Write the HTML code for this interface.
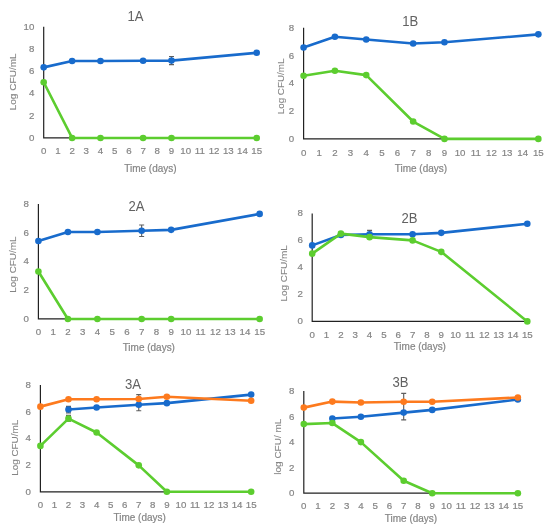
<!DOCTYPE html>
<html><head><meta charset="utf-8"><style>
html,body{margin:0;padding:0;background:#fff;}
svg{display:block;}
.t{font-family:'Liberation Sans', Arial, sans-serif;font-size:9.7px;fill:#858585;stroke:#858585;stroke-width:0.2px;}
.ti{font-family:'Liberation Sans', Arial, sans-serif;font-size:14px;fill:#626262;}
.at{font-family:'Liberation Sans', Arial, sans-serif;font-size:10.3px;fill:#858585;stroke:#858585;stroke-width:0.2px;}
.yl{font-family:'Liberation Sans', Arial, sans-serif;font-size:9.7px;fill:#858585;stroke:#858585;stroke-width:0.1px;}
.ax{fill:none;stroke:#222222;stroke-width:1.2;}
.er{fill:none;stroke:#5f5f5f;stroke-width:1.15;}
</style></head><body>
<svg width="550" height="532" viewBox="0 0 550 532">
<rect width="550" height="532" fill="#fff"/>
<text class="t" x="34.3" y="140.95" text-anchor="end">0</text>
<text class="t" x="34.3" y="118.72" text-anchor="end">2</text>
<text class="t" x="34.3" y="96.49" text-anchor="end">4</text>
<text class="t" x="34.3" y="74.26" text-anchor="end">6</text>
<text class="t" x="34.3" y="52.03" text-anchor="end">8</text>
<text class="t" x="34.3" y="29.8" text-anchor="end">10</text>
<text class="t" x="43.7" y="154.35" text-anchor="middle">0</text>
<text class="t" x="57.9" y="154.35" text-anchor="middle">1</text>
<text class="t" x="72.1" y="154.35" text-anchor="middle">2</text>
<text class="t" x="86.3" y="154.35" text-anchor="middle">3</text>
<text class="t" x="100.5" y="154.35" text-anchor="middle">4</text>
<text class="t" x="114.7" y="154.35" text-anchor="middle">5</text>
<text class="t" x="128.9" y="154.35" text-anchor="middle">6</text>
<text class="t" x="143.1" y="154.35" text-anchor="middle">7</text>
<text class="t" x="157.3" y="154.35" text-anchor="middle">8</text>
<text class="t" x="171.5" y="154.35" text-anchor="middle">9</text>
<text class="t" x="185.7" y="154.35" text-anchor="middle">10</text>
<text class="t" x="199.9" y="154.35" text-anchor="middle">11</text>
<text class="t" x="214.1" y="154.35" text-anchor="middle">12</text>
<text class="t" x="228.3" y="154.35" text-anchor="middle">13</text>
<text class="t" x="242.5" y="154.35" text-anchor="middle">14</text>
<text class="t" x="256.7" y="154.35" text-anchor="middle">15</text>
<path class="ax" d="M43.7 26.8V137.95H256.7"/>
<text class="ti" x="135.4" y="20.9" text-anchor="middle" textLength="16" lengthAdjust="spacingAndGlyphs">1A</text>
<text class="at" x="150.4" y="172.2" text-anchor="middle" textLength="52.3" lengthAdjust="spacingAndGlyphs">Time (days)</text>
<text class="yl" transform="translate(16.1 81.83) rotate(-90)" text-anchor="middle" textLength="57.05" lengthAdjust="spacingAndGlyphs">Log CFU/mL</text>
<path class="er" d="M171.5 56.5V64.6M169 56.5H174M169 64.6H174"/>
<path d="M43.7 67.37 L72.1 61.03 L100.5 61.03 L143.1 60.81 L171.5 60.59 L256.7 52.81" fill="none" stroke="#186bcc" stroke-width="2.6" stroke-linejoin="round"/>
<circle cx="43.7" cy="67.37" r="3.3" fill="#186bcc"/>
<circle cx="72.1" cy="61.03" r="3.3" fill="#186bcc"/>
<circle cx="100.5" cy="61.03" r="3.3" fill="#186bcc"/>
<circle cx="143.1" cy="60.81" r="3.3" fill="#186bcc"/>
<circle cx="171.5" cy="60.59" r="3.3" fill="#186bcc"/>
<circle cx="256.7" cy="52.81" r="3.3" fill="#186bcc"/>
<path d="M43.7 82.26 L72.1 137.95 L100.5 137.95 L143.1 137.95 L171.5 137.95 L256.7 137.95" fill="none" stroke="#5ccd2f" stroke-width="2.6" stroke-linejoin="round"/>
<circle cx="43.7" cy="82.26" r="3.3" fill="#5ccd2f"/>
<circle cx="72.1" cy="137.95" r="3.3" fill="#5ccd2f"/>
<circle cx="100.5" cy="137.95" r="3.3" fill="#5ccd2f"/>
<circle cx="143.1" cy="137.95" r="3.3" fill="#5ccd2f"/>
<circle cx="171.5" cy="137.95" r="3.3" fill="#5ccd2f"/>
<circle cx="256.7" cy="137.95" r="3.3" fill="#5ccd2f"/>
<text class="t" x="294.2" y="141.9" text-anchor="end">0</text>
<text class="t" x="294.2" y="114.1" text-anchor="end">2</text>
<text class="t" x="294.2" y="86.3" text-anchor="end">4</text>
<text class="t" x="294.2" y="58.5" text-anchor="end">6</text>
<text class="t" x="294.2" y="30.7" text-anchor="end">8</text>
<text class="t" x="303.6" y="156.1" text-anchor="middle">0</text>
<text class="t" x="319.25" y="156.1" text-anchor="middle">1</text>
<text class="t" x="334.9" y="156.1" text-anchor="middle">2</text>
<text class="t" x="350.55" y="156.1" text-anchor="middle">3</text>
<text class="t" x="366.2" y="156.1" text-anchor="middle">4</text>
<text class="t" x="381.85" y="156.1" text-anchor="middle">5</text>
<text class="t" x="397.5" y="156.1" text-anchor="middle">6</text>
<text class="t" x="413.15" y="156.1" text-anchor="middle">7</text>
<text class="t" x="428.8" y="156.1" text-anchor="middle">8</text>
<text class="t" x="444.45" y="156.1" text-anchor="middle">9</text>
<text class="t" x="460.1" y="156.1" text-anchor="middle">10</text>
<text class="t" x="475.75" y="156.1" text-anchor="middle">11</text>
<text class="t" x="491.4" y="156.1" text-anchor="middle">12</text>
<text class="t" x="507.05" y="156.1" text-anchor="middle">13</text>
<text class="t" x="522.7" y="156.1" text-anchor="middle">14</text>
<text class="t" x="538.35" y="156.1" text-anchor="middle">15</text>
<path class="ax" d="M303.6 27.7V138.9H538.35"/>
<text class="ti" x="410.2" y="25.7" text-anchor="middle" textLength="16" lengthAdjust="spacingAndGlyphs">1B</text>
<text class="at" x="420.9" y="172" text-anchor="middle" textLength="52.3" lengthAdjust="spacingAndGlyphs">Time (days)</text>
<text class="yl" transform="translate(284.2 86.43) rotate(-90)" text-anchor="middle" textLength="55.65" lengthAdjust="spacingAndGlyphs">Log CFU/mL</text>
<path d="M303.6 47.44 L334.9 36.74 L366.2 39.52 L413.15 43.55 L444.45 42.3 L538.35 34.37" fill="none" stroke="#186bcc" stroke-width="2.6" stroke-linejoin="round"/>
<circle cx="303.6" cy="47.44" r="3.3" fill="#186bcc"/>
<circle cx="334.9" cy="36.74" r="3.3" fill="#186bcc"/>
<circle cx="366.2" cy="39.52" r="3.3" fill="#186bcc"/>
<circle cx="413.15" cy="43.55" r="3.3" fill="#186bcc"/>
<circle cx="444.45" cy="42.3" r="3.3" fill="#186bcc"/>
<circle cx="538.35" cy="34.37" r="3.3" fill="#186bcc"/>
<path d="M303.6 75.79 L334.9 70.79 L366.2 75.1 L413.15 121.53 L444.45 138.9 L538.35 138.9" fill="none" stroke="#5ccd2f" stroke-width="2.6" stroke-linejoin="round"/>
<circle cx="303.6" cy="75.79" r="3.3" fill="#5ccd2f"/>
<circle cx="334.9" cy="70.79" r="3.3" fill="#5ccd2f"/>
<circle cx="366.2" cy="75.1" r="3.3" fill="#5ccd2f"/>
<circle cx="413.15" cy="121.53" r="3.3" fill="#5ccd2f"/>
<circle cx="444.45" cy="138.9" r="3.3" fill="#5ccd2f"/>
<circle cx="538.35" cy="138.9" r="3.3" fill="#5ccd2f"/>
<text class="t" x="29" y="321.95" text-anchor="end">0</text>
<text class="t" x="29" y="293.21" text-anchor="end">2</text>
<text class="t" x="29" y="264.47" text-anchor="end">4</text>
<text class="t" x="29" y="235.73" text-anchor="end">6</text>
<text class="t" x="29" y="206.99" text-anchor="end">8</text>
<text class="t" x="38.4" y="335.35" text-anchor="middle">0</text>
<text class="t" x="53.15" y="335.35" text-anchor="middle">1</text>
<text class="t" x="67.9" y="335.35" text-anchor="middle">2</text>
<text class="t" x="82.65" y="335.35" text-anchor="middle">3</text>
<text class="t" x="97.4" y="335.35" text-anchor="middle">4</text>
<text class="t" x="112.15" y="335.35" text-anchor="middle">5</text>
<text class="t" x="126.9" y="335.35" text-anchor="middle">6</text>
<text class="t" x="141.65" y="335.35" text-anchor="middle">7</text>
<text class="t" x="156.4" y="335.35" text-anchor="middle">8</text>
<text class="t" x="171.15" y="335.35" text-anchor="middle">9</text>
<text class="t" x="185.9" y="335.35" text-anchor="middle">10</text>
<text class="t" x="200.65" y="335.35" text-anchor="middle">11</text>
<text class="t" x="215.4" y="335.35" text-anchor="middle">12</text>
<text class="t" x="230.15" y="335.35" text-anchor="middle">13</text>
<text class="t" x="244.9" y="335.35" text-anchor="middle">14</text>
<text class="t" x="259.65" y="335.35" text-anchor="middle">15</text>
<path class="ax" d="M38.4 203.99V318.95H259.65"/>
<text class="ti" x="136.6" y="210.7" text-anchor="middle" textLength="16" lengthAdjust="spacingAndGlyphs">2A</text>
<text class="at" x="148.8" y="350.6" text-anchor="middle" textLength="52.3" lengthAdjust="spacingAndGlyphs">Time (days)</text>
<text class="yl" transform="translate(16 264.58) rotate(-90)" text-anchor="middle" textLength="56.15" lengthAdjust="spacingAndGlyphs">Log CFU/mL</text>
<path class="er" d="M141.65 225V236.5M139.15 225H144.15M139.15 236.5H144.15"/>
<path d="M38.4 241.06 L67.9 232.01 L97.4 232.01 L141.65 230.72 L171.15 229.86 L259.65 213.91" fill="none" stroke="#186bcc" stroke-width="2.6" stroke-linejoin="round"/>
<circle cx="38.4" cy="241.06" r="3.3" fill="#186bcc"/>
<circle cx="67.9" cy="232.01" r="3.3" fill="#186bcc"/>
<circle cx="97.4" cy="232.01" r="3.3" fill="#186bcc"/>
<circle cx="141.65" cy="230.72" r="3.3" fill="#186bcc"/>
<circle cx="171.15" cy="229.86" r="3.3" fill="#186bcc"/>
<circle cx="259.65" cy="213.91" r="3.3" fill="#186bcc"/>
<path d="M38.4 271.53 L67.9 318.95 L97.4 318.95 L141.65 318.95 L171.15 318.95 L259.65 318.95" fill="none" stroke="#5ccd2f" stroke-width="2.6" stroke-linejoin="round"/>
<circle cx="38.4" cy="271.53" r="3.3" fill="#5ccd2f"/>
<circle cx="67.9" cy="318.95" r="3.3" fill="#5ccd2f"/>
<circle cx="97.4" cy="318.95" r="3.3" fill="#5ccd2f"/>
<circle cx="141.65" cy="318.95" r="3.3" fill="#5ccd2f"/>
<circle cx="171.15" cy="318.95" r="3.3" fill="#5ccd2f"/>
<circle cx="259.65" cy="318.95" r="3.3" fill="#5ccd2f"/>
<text class="t" x="302.8" y="324.4" text-anchor="end">0</text>
<text class="t" x="302.8" y="297.4" text-anchor="end">2</text>
<text class="t" x="302.8" y="270.4" text-anchor="end">4</text>
<text class="t" x="302.8" y="243.4" text-anchor="end">6</text>
<text class="t" x="302.8" y="216.4" text-anchor="end">8</text>
<text class="t" x="312.2" y="337.8" text-anchor="middle">0</text>
<text class="t" x="326.54" y="337.8" text-anchor="middle">1</text>
<text class="t" x="340.88" y="337.8" text-anchor="middle">2</text>
<text class="t" x="355.22" y="337.8" text-anchor="middle">3</text>
<text class="t" x="369.56" y="337.8" text-anchor="middle">4</text>
<text class="t" x="383.9" y="337.8" text-anchor="middle">5</text>
<text class="t" x="398.24" y="337.8" text-anchor="middle">6</text>
<text class="t" x="412.58" y="337.8" text-anchor="middle">7</text>
<text class="t" x="426.92" y="337.8" text-anchor="middle">8</text>
<text class="t" x="441.26" y="337.8" text-anchor="middle">9</text>
<text class="t" x="455.6" y="337.8" text-anchor="middle">10</text>
<text class="t" x="469.94" y="337.8" text-anchor="middle">11</text>
<text class="t" x="484.28" y="337.8" text-anchor="middle">12</text>
<text class="t" x="498.62" y="337.8" text-anchor="middle">13</text>
<text class="t" x="512.96" y="337.8" text-anchor="middle">14</text>
<text class="t" x="527.3" y="337.8" text-anchor="middle">15</text>
<path class="ax" d="M312.2 213.4V321.4H527.3"/>
<text class="ti" x="409.5" y="222.5" text-anchor="middle" textLength="16" lengthAdjust="spacingAndGlyphs">2B</text>
<text class="at" x="419.8" y="350.2" text-anchor="middle" textLength="52.3" lengthAdjust="spacingAndGlyphs">Time (days)</text>
<text class="yl" transform="translate(287.2 273.33) rotate(-90)" text-anchor="middle" textLength="56.45" lengthAdjust="spacingAndGlyphs">Log CFU/mL</text>
<path class="er" d="M369.56 230.4V238M367.06 230.4H372.06M367.06 238H372.06"/>
<path d="M312.2 245.39 L340.88 235 L369.56 234.19 L412.58 234.32 L441.26 232.84 L527.3 223.79" fill="none" stroke="#186bcc" stroke-width="2.6" stroke-linejoin="round"/>
<circle cx="312.2" cy="245.39" r="3.3" fill="#186bcc"/>
<circle cx="340.88" cy="235" r="3.3" fill="#186bcc"/>
<circle cx="369.56" cy="234.19" r="3.3" fill="#186bcc"/>
<circle cx="412.58" cy="234.32" r="3.3" fill="#186bcc"/>
<circle cx="441.26" cy="232.84" r="3.3" fill="#186bcc"/>
<circle cx="527.3" cy="223.79" r="3.3" fill="#186bcc"/>
<path d="M312.2 253.63 L340.88 233.65 L369.56 237.16 L412.58 240.4 L441.26 251.87 L527.3 321.4" fill="none" stroke="#5ccd2f" stroke-width="2.6" stroke-linejoin="round"/>
<circle cx="312.2" cy="253.63" r="3.3" fill="#5ccd2f"/>
<circle cx="340.88" cy="233.65" r="3.3" fill="#5ccd2f"/>
<circle cx="369.56" cy="237.16" r="3.3" fill="#5ccd2f"/>
<circle cx="412.58" cy="240.4" r="3.3" fill="#5ccd2f"/>
<circle cx="441.26" cy="251.87" r="3.3" fill="#5ccd2f"/>
<circle cx="527.3" cy="321.4" r="3.3" fill="#5ccd2f"/>
<text class="t" x="31" y="494.8" text-anchor="end">0</text>
<text class="t" x="31" y="468.1" text-anchor="end">2</text>
<text class="t" x="31" y="441.4" text-anchor="end">4</text>
<text class="t" x="31" y="414.7" text-anchor="end">6</text>
<text class="t" x="31" y="388" text-anchor="end">8</text>
<text class="t" x="40.4" y="508.2" text-anchor="middle">0</text>
<text class="t" x="54.45" y="508.2" text-anchor="middle">1</text>
<text class="t" x="68.5" y="508.2" text-anchor="middle">2</text>
<text class="t" x="82.55" y="508.2" text-anchor="middle">3</text>
<text class="t" x="96.6" y="508.2" text-anchor="middle">4</text>
<text class="t" x="110.65" y="508.2" text-anchor="middle">5</text>
<text class="t" x="124.7" y="508.2" text-anchor="middle">6</text>
<text class="t" x="138.75" y="508.2" text-anchor="middle">7</text>
<text class="t" x="152.8" y="508.2" text-anchor="middle">8</text>
<text class="t" x="166.85" y="508.2" text-anchor="middle">9</text>
<text class="t" x="180.9" y="508.2" text-anchor="middle">10</text>
<text class="t" x="194.95" y="508.2" text-anchor="middle">11</text>
<text class="t" x="209" y="508.2" text-anchor="middle">12</text>
<text class="t" x="223.05" y="508.2" text-anchor="middle">13</text>
<text class="t" x="237.1" y="508.2" text-anchor="middle">14</text>
<text class="t" x="251.15" y="508.2" text-anchor="middle">15</text>
<path class="ax" d="M40.4 385V491.8H251.15"/>
<text class="ti" x="132.9" y="388.9" text-anchor="middle" textLength="16" lengthAdjust="spacingAndGlyphs">3A</text>
<text class="at" x="139.7" y="520.7" text-anchor="middle" textLength="52.3" lengthAdjust="spacingAndGlyphs">Time (days)</text>
<text class="yl" transform="translate(17.6 447.83) rotate(-90)" text-anchor="middle" textLength="56.05" lengthAdjust="spacingAndGlyphs">Log CFU/mL</text>
<path class="er" d="M138.75 394.6V410.7M136.25 394.6H141.25M136.25 410.7H141.25"/>
<path class="er" d="M68.5 406.3V412.9M66 406.3H71M66 412.9H71"/>
<path class="er" d="M68.5 415.4V421.2M66 415.4H71M66 421.2H71"/>
<path d="M68.5 409.56 L96.6 407.43 L138.75 404.76 L166.85 403.16 L251.15 394.61" fill="none" stroke="#186bcc" stroke-width="2.6" stroke-linejoin="round"/>
<circle cx="68.5" cy="409.56" r="3.3" fill="#186bcc"/>
<circle cx="96.6" cy="407.43" r="3.3" fill="#186bcc"/>
<circle cx="138.75" cy="404.76" r="3.3" fill="#186bcc"/>
<circle cx="166.85" cy="403.16" r="3.3" fill="#186bcc"/>
<circle cx="251.15" cy="394.61" r="3.3" fill="#186bcc"/>
<path d="M40.4 445.88 L68.5 418.64 L96.6 432.53 L138.75 465.37 L166.85 491.8 L251.15 491.8" fill="none" stroke="#5ccd2f" stroke-width="2.6" stroke-linejoin="round"/>
<circle cx="40.4" cy="445.88" r="3.3" fill="#5ccd2f"/>
<circle cx="68.5" cy="418.64" r="3.3" fill="#5ccd2f"/>
<circle cx="96.6" cy="432.53" r="3.3" fill="#5ccd2f"/>
<circle cx="138.75" cy="465.37" r="3.3" fill="#5ccd2f"/>
<circle cx="166.85" cy="491.8" r="3.3" fill="#5ccd2f"/>
<circle cx="251.15" cy="491.8" r="3.3" fill="#5ccd2f"/>
<path d="M40.4 406.63 L68.5 399.28 L96.6 399.28 L138.75 399.02 L166.85 396.75 L251.15 400.75" fill="none" stroke="#fd7a1e" stroke-width="2.6" stroke-linejoin="round"/>
<circle cx="40.4" cy="406.63" r="3.3" fill="#fd7a1e"/>
<circle cx="68.5" cy="399.28" r="3.3" fill="#fd7a1e"/>
<circle cx="96.6" cy="399.28" r="3.3" fill="#fd7a1e"/>
<circle cx="138.75" cy="399.02" r="3.3" fill="#fd7a1e"/>
<circle cx="166.85" cy="396.75" r="3.3" fill="#fd7a1e"/>
<circle cx="251.15" cy="400.75" r="3.3" fill="#fd7a1e"/>
<text class="t" x="294.4" y="496.2" text-anchor="end">0</text>
<text class="t" x="294.4" y="470.65" text-anchor="end">2</text>
<text class="t" x="294.4" y="445.1" text-anchor="end">4</text>
<text class="t" x="294.4" y="419.55" text-anchor="end">6</text>
<text class="t" x="294.4" y="394" text-anchor="end">8</text>
<text class="t" x="303.8" y="509.3" text-anchor="middle">0</text>
<text class="t" x="318.07" y="509.3" text-anchor="middle">1</text>
<text class="t" x="332.34" y="509.3" text-anchor="middle">2</text>
<text class="t" x="346.61" y="509.3" text-anchor="middle">3</text>
<text class="t" x="360.88" y="509.3" text-anchor="middle">4</text>
<text class="t" x="375.15" y="509.3" text-anchor="middle">5</text>
<text class="t" x="389.42" y="509.3" text-anchor="middle">6</text>
<text class="t" x="403.69" y="509.3" text-anchor="middle">7</text>
<text class="t" x="417.96" y="509.3" text-anchor="middle">8</text>
<text class="t" x="432.23" y="509.3" text-anchor="middle">9</text>
<text class="t" x="446.5" y="509.3" text-anchor="middle">10</text>
<text class="t" x="460.77" y="509.3" text-anchor="middle">11</text>
<text class="t" x="475.04" y="509.3" text-anchor="middle">12</text>
<text class="t" x="489.31" y="509.3" text-anchor="middle">13</text>
<text class="t" x="503.58" y="509.3" text-anchor="middle">14</text>
<text class="t" x="517.85" y="509.3" text-anchor="middle">15</text>
<path class="ax" d="M303.8 391V493.2H517.85"/>
<text class="ti" x="400.6" y="386.7" text-anchor="middle" textLength="16" lengthAdjust="spacingAndGlyphs">3B</text>
<text class="at" x="411" y="522.2" text-anchor="middle" textLength="52.3" lengthAdjust="spacingAndGlyphs">Time (days)</text>
<text class="yl" transform="translate(280.7 446.68) rotate(-90)" text-anchor="middle" textLength="56.15" lengthAdjust="spacingAndGlyphs">log CFU/ mL</text>
<path class="er" d="M403.69 393.3V419.8M401.19 393.3H406.19M401.19 419.8H406.19"/>
<path d="M332.34 418.47 L360.88 416.81 L403.69 412.59 L432.23 409.91 L517.85 399.56" fill="none" stroke="#186bcc" stroke-width="2.6" stroke-linejoin="round"/>
<circle cx="332.34" cy="418.47" r="3.3" fill="#186bcc"/>
<circle cx="360.88" cy="416.81" r="3.3" fill="#186bcc"/>
<circle cx="403.69" cy="412.59" r="3.3" fill="#186bcc"/>
<circle cx="432.23" cy="409.91" r="3.3" fill="#186bcc"/>
<circle cx="517.85" cy="399.56" r="3.3" fill="#186bcc"/>
<path d="M303.8 424.09 L332.34 423.07 L360.88 442.1 L403.69 480.81 L432.23 493.2 L517.85 493.2" fill="none" stroke="#5ccd2f" stroke-width="2.6" stroke-linejoin="round"/>
<circle cx="303.8" cy="424.09" r="3.3" fill="#5ccd2f"/>
<circle cx="332.34" cy="423.07" r="3.3" fill="#5ccd2f"/>
<circle cx="360.88" cy="442.1" r="3.3" fill="#5ccd2f"/>
<circle cx="403.69" cy="480.81" r="3.3" fill="#5ccd2f"/>
<circle cx="432.23" cy="493.2" r="3.3" fill="#5ccd2f"/>
<circle cx="517.85" cy="493.2" r="3.3" fill="#5ccd2f"/>
<path d="M303.8 407.61 L332.34 401.6 L360.88 402.5 L403.69 401.73 L432.23 401.73 L517.85 397.52" fill="none" stroke="#fd7a1e" stroke-width="2.6" stroke-linejoin="round"/>
<circle cx="303.8" cy="407.61" r="3.3" fill="#fd7a1e"/>
<circle cx="332.34" cy="401.6" r="3.3" fill="#fd7a1e"/>
<circle cx="360.88" cy="402.5" r="3.3" fill="#fd7a1e"/>
<circle cx="403.69" cy="401.73" r="3.3" fill="#fd7a1e"/>
<circle cx="432.23" cy="401.73" r="3.3" fill="#fd7a1e"/>
<circle cx="517.85" cy="397.52" r="3.3" fill="#fd7a1e"/>
</svg>
</body></html>
